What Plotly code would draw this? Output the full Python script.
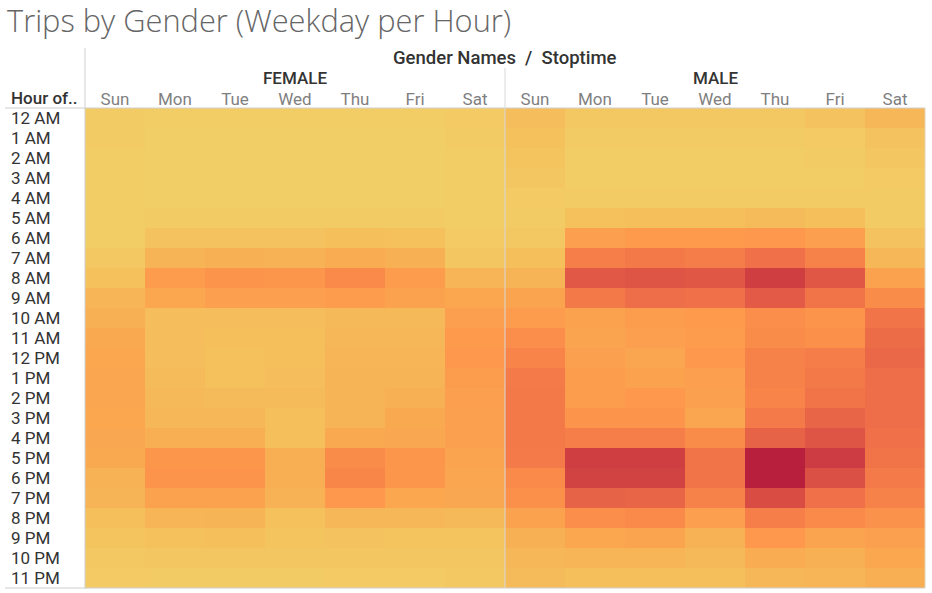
import plotly.graph_objects as go

hours = ["12 AM","1 AM","2 AM","3 AM","4 AM","5 AM","6 AM","7 AM","8 AM","9 AM","10 AM","11 AM",
         "12 PM","1 PM","2 PM","3 PM","4 PM","5 PM","6 PM","7 PM","8 PM","9 PM","10 PM","11 PM"]
days = ["Sun","Mon","Tue","Wed","Thu","Fri","Sat"]

female = [
 [2,1,1,1,1,1,3],[2,0,0,0,0,0,2],[1,0,0,0,0,0,1],[1,0,0,0,0,0,1],[1,0,0,0,0,0,1],[1,2,2,2,2,2,1],
 [1,7,7,7,9,8,3],[4,15,17,16,19,17,5],[8,29,33,32,38,29,14],[14,22,27,27,29,25,22],
 [17,10,10,10,12,12,27],[20,10,9,9,13,13,30],[22,10,8,9,14,14,31],[23,11,8,10,15,15,28],
 [23,12,11,11,15,17,27],[22,13,13,9,15,20,26],[21,18,18,9,20,21,26],[20,32,32,18,37,32,24],
 [16,33,33,18,40,32,23],[15,25,25,16,31,22,21],[9,14,15,8,13,13,12],[6,8,9,6,7,6,6],
 [4,5,5,5,5,5,5],[3,2,2,2,3,3,4],
]
male = [
 [10,4,4,4,4,7,13],[8,2,2,2,2,3,7],[6,1,1,1,1,2,5],[5,1,1,1,1,1,3],[3,2,2,2,2,2,2],[2,8,9,9,11,9,2],
 [4,27,30,30,31,27,7],[9,44,47,45,52,42,13],[15,63,66,64,78,64,25],[24,47,53,52,62,50,37],
 [29,25,28,30,36,33,50],[36,24,27,29,37,35,54],[41,26,23,31,42,45,56],[46,28,25,27,42,47,53],
 [47,28,31,26,41,50,53],[47,33,33,23,46,57,53],[47,44,44,37,58,66,52],[46,78,78,50,97,80,50],
 [38,76,76,50,97,68,46],[35,58,57,42,70,52,42],[25,36,38,27,44,38,34],[17,22,24,16,31,24,26],
 [13,14,14,12,19,17,22],[11,9,9,9,13,14,18],
]

W, H = 932, 593
L, M, R, T, B = 85, 505, 925, 108, 588
FONT = "Roboto"
DARK = "#333333"
colorscale = [[0,"#f2cf66"],[0.1,"#f5bd5b"],[0.2,"#f9aa51"],[0.3,"#fd9a4c"],[0.4,"#f98649"],
              [0.5,"#f17449"],[0.6,"#e55f47"],[0.7,"#d94c44"],[0.8,"#cc3c42"],[1,"#b41a3c"]]

fig = go.Figure()
fig.add_trace(go.Heatmap(z=female, x=days, y=hours, coloraxis="coloraxis", xaxis="x", yaxis="y", xgap=0, ygap=0))
fig.add_trace(go.Heatmap(z=male, x=days, y=hours, coloraxis="coloraxis", xaxis="x2", yaxis="y", xgap=0, ygap=0))

xax = dict(side="top", type="category", categoryorder="array", categoryarray=days, showgrid=False, zeroline=False,
           showline=False, ticks="", ticklen=0, ticklabelstandoff=-1, tickfont=dict(family=FONT, size=17, color="#7f7f7f"))
fig.update_layout(
    width=W, height=H, margin=dict(l=0, r=0, t=0, b=0), paper_bgcolor="white", plot_bgcolor="white",
    coloraxis=dict(colorscale=colorscale, cmin=0, cmax=100, showscale=False),
    xaxis=dict(domain=[L/W, M/W], anchor="y", **xax),
    xaxis2=dict(domain=[M/W, R/W], anchor="y", **xax),
    yaxis=dict(domain=[1-B/H, 1-T/H], type="category", categoryorder="array", categoryarray=hours,
               range=[len(hours)-0.5, -0.5], showticklabels=False, ticks="", showgrid=False, zeroline=False, anchor="x"),
    font=dict(family=FONT, color=DARK),
    showlegend=False,
)

def px_note(text, x, y, size, anchor="center", color=DARK, family=FONT, weight=None):
    fig.add_annotation(text=text, xref="paper", yref="paper", x=x/W, y=1-y/H, showarrow=False,
                       xanchor=anchor, yanchor="middle", font=dict(family=family, size=size, color=color, weight=weight))

px_note("Trips by Gender (Weekday per Hour)", 5, 20, 30.8, anchor="left", color="#666666", family="Open Sans", weight=300)
px_note("Gender Names  /  Stoptime", M, 58, 18.5, weight=500)
px_note("FEMALE", (L+M)/2, 78, 17, weight=500)
px_note("MALE", (M+R)/2, 78, 17, weight=500)
px_note("Hour of..", 9, 98, 17, anchor="left", weight=500)
for h in hours:
    fig.add_annotation(text=h, xref="paper", yref="y", x=9/W, y=h, showarrow=False, xanchor="left",
                       yanchor="middle", font=dict(family=FONT, size=17, color=DARK))

def line(x0, y0, x1, y1, color="#cfcfcf"):
    fig.add_shape(type="line", xref="paper", yref="paper", x0=x0/W, y0=1-y0/H, x1=x1/W, y1=1-y1/H,
                  line=dict(color=color, width=1), layer="above")
line(L, 48, L, B+1)
line(5, T, R, T)
line(5, B, R, B)
line(M, 68, M, B, "#d8d8d8")
line(R, T, R, B, "#e3d3b0")

fig.write_html("out.html", config={"displayModeBar": False},
               post_script="document.body.style.margin='0';document.documentElement.style.overflow='hidden';")
